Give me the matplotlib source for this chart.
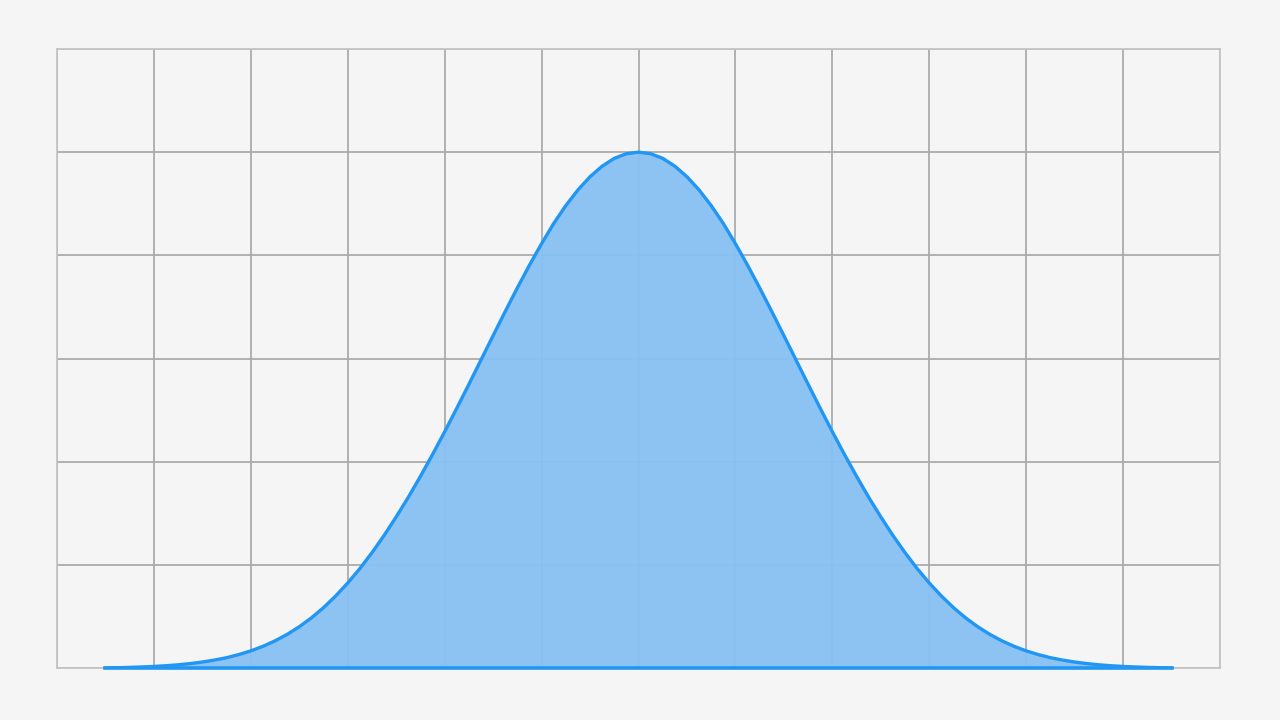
import matplotlib
matplotlib.use("Agg")
import matplotlib.pyplot as plt

x_vals = [0.5 + 0.125 * i for i in range(89)]
y_vals = [
    0.0, 0.003, 0.006, 0.010, 0.015, 0.022, 0.031, 0.043, 0.058, 0.077,
    0.100, 0.130, 0.166, 0.210, 0.263, 0.326, 0.400, 0.486, 0.585, 0.698,
    0.824, 0.964, 1.118, 1.285, 1.465, 1.655, 1.858, 2.070, 2.290, 2.518,
    2.750, 2.986, 3.222, 3.456, 3.685, 3.905, 4.113, 4.309, 4.482, 4.634,
    4.762, 4.864, 4.940, 4.985, 5.000,
    4.985, 4.940, 4.864, 4.762, 4.634, 4.482, 4.309, 4.113, 3.905, 3.685,
    3.456, 3.222, 2.986, 2.750, 2.518, 2.290, 2.070, 1.858, 1.655, 1.465,
    1.285, 1.118, 0.964, 0.824, 0.698, 0.585, 0.486, 0.400, 0.326, 0.263,
    0.210, 0.166, 0.130, 0.100, 0.077, 0.058, 0.043, 0.031, 0.022, 0.015,
    0.010, 0.006, 0.003, 0.0,
]

x_ticks = list(range(0, 13))
y_ticks = list(range(0, 7))

BG = "#f5f5f5"
BLUE = "#2196f3"
FILL = "#86c1f3"

fig = plt.figure(figsize=(12.8, 7.2), dpi=100, facecolor=BG)
ax = fig.add_axes([57 / 1280, 52 / 720, 1163 / 1280, 619 / 720])
ax.set_facecolor(BG)

ax.set_xlim(0, 12)
ax.set_ylim(0, 6)
ax.set_xticks(x_ticks)
ax.set_yticks(y_ticks)
ax.tick_params(length=0, labelbottom=False, labelleft=False)
ax.grid(True, color="#ababab", linewidth=1.3, zorder=0)
ax.set_axisbelow(True)
for sp in ax.spines.values():
    sp.set_color("#c4c4c4")
    sp.set_linewidth(1.3)

ax.fill_between(x_vals, 0, y_vals, color=FILL, alpha=0.95, linewidth=0, zorder=2)
ax.plot(x_vals, y_vals, color=BLUE, linewidth=2.4, solid_joinstyle="round",
        solid_capstyle="round", zorder=3)
ax.plot([x_vals[0], x_vals[-1]], [0, 0], color=BLUE, linewidth=2.6, zorder=3,
        clip_on=False)

fig.savefig("out.png", dpi=100, facecolor=BG)
